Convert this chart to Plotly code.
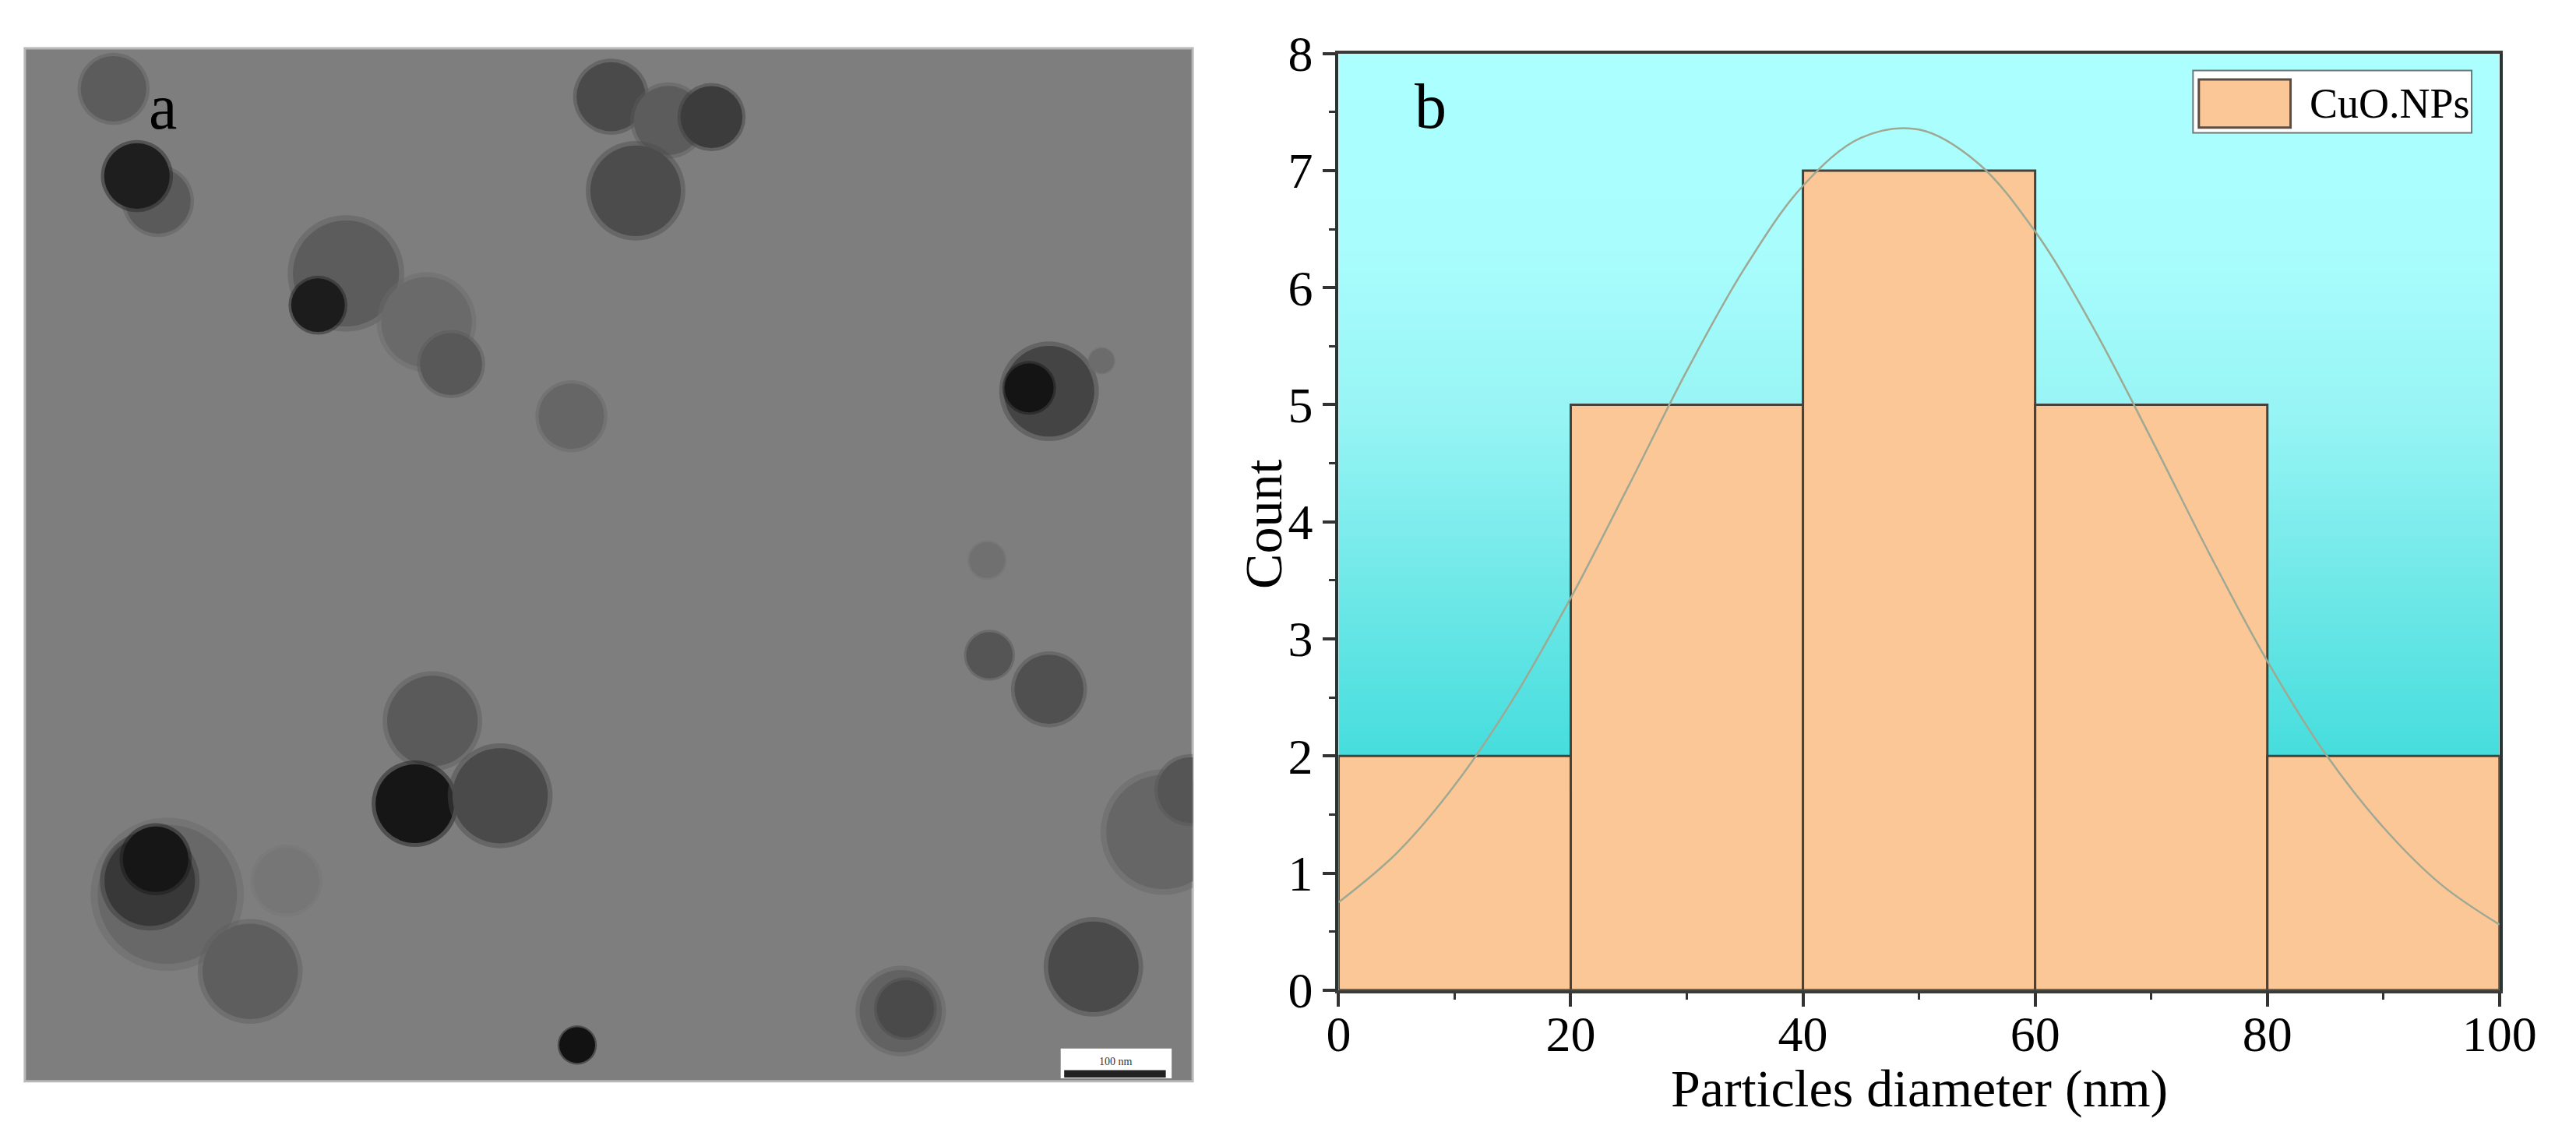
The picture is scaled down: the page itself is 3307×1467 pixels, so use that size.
import numpy as np
import plotly.graph_objects as go

# ---- panel b: size distribution histogram ----
bin_centers = [10, 30, 50, 70, 90]
bin_width = 20
counts = [2, 5, 7, 5, 2]

# fitted normal curve, every 5 nm
curve_x = [0, 5, 10, 15, 20, 25, 30, 35, 40, 45, 50,
           55, 60, 65, 70, 75, 80, 85, 90, 95, 100]
curve_y = [0.75, 1.17, 1.75, 2.48, 3.35, 4.31, 5.29, 6.17, 6.87, 7.28, 7.35,
           7.07, 6.48, 5.66, 4.71, 3.73, 2.81, 2.02, 1.39, 0.90, 0.56]

x_ticks = [0, 20, 40, 60, 80, 100]
y_ticks = [0, 1, 2, 3, 4, 5, 6, 7, 8]

# ---- panel a: TEM micrograph, particles (x, y in % of panel width, d = diameter) ----
particle_x = [7.6, 11.4, 9.6, 27.5, 25.1, 34.4, 36.5, 46.8, 50.2, 55.1, 58.8,
              52.3, 87.7, 86.0, 92.2, 82.4, 82.6, 87.7, 34.9, 33.4, 40.7,
              12.2, 10.7, 11.2, 22.4, 19.3, 47.3, 75.0, 75.4, 91.5, 97.5, 99.8]
particle_y = [87.6, 77.7, 79.9, 71.3, 68.5, 67.0, 63.3, 58.7, 86.9, 84.8, 85.1,
              78.6, 60.9, 61.2, 63.6, 46.0, 37.6, 34.6, 31.8, 24.5, 25.2,
              16.5, 17.7, 19.6, 17.7, 9.7, 3.2, 6.2, 6.4, 10.1, 22.0, 25.7]
particle_d = [5.5, 5.5, 5.5, 8.9, 4.5, 7.6, 5.2, 5.5, 5.8, 5.8, 5.2,
              7.6, 7.6, 4.1, 2.1, 3.0, 3.9, 5.8, 7.6, 6.6, 8.0,
              11.7, 7.6, 5.5, 5.5, 8.0, 3.0, 6.9, 4.8, 7.6, 9.6, 5.5]
particle_shade = [92, 90, 30, 92, 28, 106, 88, 102, 74, 92, 60,
                  76, 68, 20, 108, 112, 85, 80, 90, 22, 74,
                  104, 56, 22, 118, 94, 18, 98, 74, 74, 102, 85]

FONT = "Liberation Serif"

# page is 3307x1467, the html body adds an 8px margin round the figure
PAGE_W, PAGE_H, OFF = 3307, 1467, 8
FIG_W, FIG_H = PAGE_W - 2 * OFF, PAGE_H - 2 * OFF


def dom_x(left, right):
    return [(left - OFF) / FIG_W, (right - OFF) / FIG_W]


def dom_y(top, bottom):
    return [1 - (bottom - OFF) / FIG_H, 1 - (top - OFF) / FIG_H]


def px(xp):
    return (xp - OFF) / FIG_W


def py(yp):
    return 1 - (yp - OFF) / FIG_H


PANEL_W_PX = 1545 - 16  # width of the micrograph panel on the page
px_per_unit = PANEL_W_PX / 100.0

fig = go.Figure()

# gradient background of panel b (heatmap layer sits under the bars)
grad_y = np.linspace(0, 8, 81)
fig.add_trace(go.Heatmap(
    x=[0, 100], y=grad_y, z=[[v, v] for v in grad_y],
    colorscale=[[0, "#38d6d6"], [0.25, "#46dddd"], [0.45, "#74e9e9"],
                [0.62, "#98f5f5"], [0.8, "#aafdfd"], [1, "#abffff"]],
    zmin=0, zmax=8, zsmooth="best", showscale=False, hoverinfo="skip",
    xaxis="x2", yaxis="y2",
))

fig.add_trace(go.Bar(
    x=bin_centers, y=counts, width=bin_width,
    marker=dict(color="#fcc797", line=dict(color="#45423c", width=3)),
    name="CuO.NPs", showlegend=False,
    xaxis="x2", yaxis="y2",
))

fig.add_trace(go.Scatter(
    x=curve_x, y=curve_y, mode="lines", line_shape="spline",
    line=dict(color="#9ea893", width=2.5),
    showlegend=False, hoverinfo="skip",
    xaxis="x2", yaxis="y2",
))

# particles: a soft halo then the body
sizes = [d * px_per_unit for d in particle_d]
colors = [f"rgb({s},{s},{s})" for s in particle_shade]
for i in range(len(particle_x)):
    fig.add_trace(go.Scatter(
        x=[particle_x[i]], y=[particle_y[i]], mode="markers",
        marker=dict(size=sizes[i] * 1.1, color=colors[i], opacity=0.45,
                    line=dict(width=0)),
        showlegend=False, hoverinfo="skip", xaxis="x", yaxis="y",
    ))
    fig.add_trace(go.Scatter(
        x=[particle_x[i]], y=[particle_y[i]], mode="markers",
        marker=dict(size=sizes[i], color=colors[i], line=dict(width=0)),
        showlegend=False, hoverinfo="skip", xaxis="x", yaxis="y",
    ))

axis_font = dict(family=FONT, size=64, color="black")
title_font = dict(family=FONT, size=68, color="black")

fig.update_layout(
    width=FIG_W, height=FIG_H,
    margin=dict(l=0, r=0, t=0, b=0),
    paper_bgcolor="white", plot_bgcolor="white",
    font=dict(family=FONT, color="black"),
    xaxis=dict(domain=dom_x(16, 1545), range=[0, 100], visible=False),
    yaxis=dict(domain=dom_y(28, 1422), range=[0, 91.17], visible=False),
    xaxis2=dict(
        domain=dom_x(1736, 3256), range=[0, 100], anchor="y2",
        tickvals=x_ticks, ticks="outside", ticklen=17, tickwidth=4,
        tickcolor="#333", tickfont=axis_font, ticklabeloverflow="allow",
        ticklabelstandoff=-20,
        minor=dict(ticks="outside", ticklen=8, tickwidth=3, dtick=10,
                   tickcolor="#333"),
        showline=True, linecolor="#3a3a38", linewidth=4, mirror=True,
        showgrid=False, zeroline=False,
    ),
    yaxis2=dict(
        domain=dom_y(35, 1299), range=[0, 8], anchor="x2",
        tickvals=y_ticks, ticks="outside", ticklen=16, tickwidth=4,
        tickcolor="#333", tickfont=axis_font, ticklabeloverflow="allow",
        minor=dict(ticks="outside", ticklen=8, tickwidth=3, dtick=0.5,
                   tickcolor="#333"),
        showline=True, linecolor="#2a3434", linewidth=4, mirror=True,
        showgrid=False, zeroline=False,
    ),
    shapes=[
        # micrograph background
        dict(type="rect", xref="x domain", yref="y domain", x0=0, x1=1, y0=0, y1=1,
             fillcolor="#7e7e7e", line=dict(color="#b8b8b8", width=3), layer="below"),
        # scale bar box
        dict(type="rect", xref="x", yref="y", x0=88.7, x1=98.2, y0=0.26, y1=2.9,
             fillcolor="white", line=dict(width=0)),
        dict(type="rect", xref="x", yref="y", x0=89.0, x1=97.7, y0=0.33, y1=0.98,
             fillcolor="#222222", line=dict(width=0)),
        # legend box
        dict(type="rect", xref="x2", yref="y2", x0=73.6, x1=97.6, y0=7.323, y1=7.854,
             fillcolor="white", line=dict(color="#6a7878", width=2)),
        dict(type="rect", xref="x2", yref="y2", x0=74.1, x1=82.0, y0=7.367, y1=7.778,
             fillcolor="#fcc797", line=dict(color="#5a4e44", width=3)),
    ],
    annotations=[
        # axis titles
        dict(text="Particles diameter (nm)", xref="paper", yref="paper",
             x=px(2496), y=py(1432), xanchor="center", yanchor="middle",
             showarrow=False, font=title_font),
        dict(text="Count", xref="paper", yref="paper", textangle=-90,
             x=px(1637), y=py(670), xanchor="center", yanchor="middle",
             showarrow=False, font=title_font),
        # panel labels
        dict(text="a", xref="x", yref="y", x=11.8, y=86.0, showarrow=False,
             font=dict(family=FONT, size=82, color="black")),
        dict(text="b", xref="x2", yref="y2", x=7.9, y=7.55, showarrow=False,
             font=dict(family=FONT, size=82, color="black")),
        # legend text
        dict(text="CuO.NPs", xref="x2", yref="y2", x=83.5, y=7.57, xanchor="left",
             showarrow=False, font=dict(family=FONT, size=54, color="black")),
        dict(text="100 nm", xref="x", yref="y", x=93.4, y=1.77, showarrow=False,
             font=dict(family=FONT, size=14, color="#333")),
    ],
)

fig.write_html("out.html")
